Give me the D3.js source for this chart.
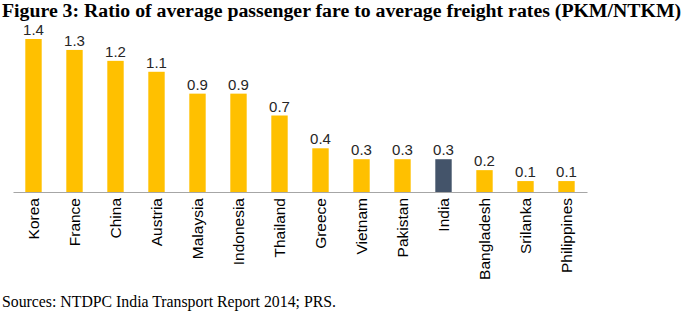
<!DOCTYPE html>
<html lang="en">
<meta charset="utf-8">
<head>
    <script src="https://d3js.org/d3.v7.min.js"></script>
    <style>
        body { margin: 0; background: #fff; }
    </style>
</head>
<body>
<script>
// data
const countries = ["Korea", "France", "China", "Austria", "Malaysia", "Indonesia", "Thailand",
    "Greece", "Vietnam", "Pakistan", "India", "Bangladesh", "Srilanka", "Philippines"];
const ratios = [1.4, 1.3, 1.2, 1.1, 0.9, 0.9, 0.7, 0.4, 0.3, 0.3, 0.3, 0.2, 0.1, 0.1];
const highlight = "India";

const data = countries.map((c, i) => ({country: c, value: ratios[i]}));

const width = 685, height = 314;
const svg = d3.select("body").append("svg")
    .attr("width", width)
    .attr("height", height);

// title
svg.append("text")
    .attr("x", 2)
    .attr("y", 17)
    .attr("font-family", "'Liberation Serif', 'Times New Roman', serif")
    .attr("font-weight", "bold")
    .attr("font-size", 19.8)
    .attr("fill", "#000")
    .text("Figure 3: Ratio of average passenger fare to average freight rates (PKM/NTKM)");

// scales
const x = d3.scaleBand()
    .domain(countries)
    .range([13, 587])
    .paddingInner(0.6)
    .paddingOuter(0.3);

const y = d3.scaleLinear()
    .domain([0, 1.4])
    .range([192, 39]);

// bars
svg.selectAll(".bar")
    .data(data)
    .join("rect")
    .attr("class", "bar")
    .attr("x", d => x(d.country))
    .attr("width", x.bandwidth())
    .attr("y", d => y(d.value))
    .attr("height", d => y(0) - y(d.value))
    .attr("fill", d => d.country === highlight ? "#44546A" : "#FFC000");

// value labels
svg.selectAll(".val")
    .data(data)
    .join("text")
    .attr("class", "val")
    .attr("x", d => x(d.country) + x.bandwidth() / 2)
    .attr("y", d => y(d.value) - 4)
    .attr("text-anchor", "middle")
    .attr("font-family", "'Liberation Sans', Arial, sans-serif")
    .attr("font-size", 15)
    .attr("fill", "#262626")
    .text(d => d.value.toFixed(1));

// x axis
const xAxis = svg.append("g")
    .attr("transform", "translate(0," + y(0) + ")")
    .call(d3.axisBottom(x).tickSize(0).tickPadding(6));
xAxis.select(".domain").attr("stroke", "#A6A6A6").attr("stroke-width", 1.2);
xAxis.selectAll("text")
    .attr("font-family", "'Liberation Sans', Arial, sans-serif")
    .attr("font-size", 15.5)
    .attr("fill", "#000")
    .attr("text-anchor", "end")
    .attr("transform", "rotate(-90)")
    .attr("x", -6)
    .attr("y", 0)
    .attr("dy", "0.35em");

// source note
svg.append("text")
    .attr("x", 2)
    .attr("y", 307)
    .attr("font-family", "'Liberation Serif', 'Times New Roman', serif")
    .attr("font-size", 15.8)
    .attr("fill", "#000")
    .text("Sources: NTDPC India Transport Report 2014; PRS.");
</script>
</body>
</html>
